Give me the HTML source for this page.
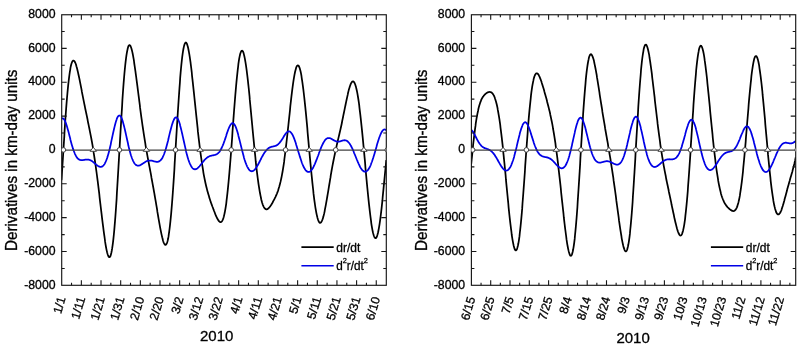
<!DOCTYPE html>
<html><head><meta charset="utf-8"><title>Derivatives 2010</title>
<style>html,body{margin:0;padding:0;background:#fff}svg{display:block}</style></head>
<body><svg width="799" height="347" viewBox="0 0 799 347" font-family='"Liberation Sans", sans-serif' fill="#000" stroke="#000" stroke-width="0.3">
<rect width="799" height="347" fill="#fff" stroke="none"/>
<clipPath id="cp1"><rect x="61.70" y="14.75" width="324.60" height="270.55"/></clipPath>
<g clip-path="url(#cp1)" fill="none" stroke-width="1.55" stroke-linejoin="round">
<path d="M61.5,180.3 L61.9,174.0 L62.3,167.7 L62.7,161.4 L63.1,155.1 L63.5,148.8 L63.9,142.5 L64.3,136.4 L64.6,130.4 L65.0,124.5 L65.4,118.8 L65.8,113.2 L66.2,107.9 L66.6,102.8 L67.0,98.0 L67.4,93.5 L67.8,89.2 L68.2,85.2 L68.6,81.5 L69.0,78.1 L69.4,75.0 L69.8,72.2 L70.2,69.8 L70.5,67.6 L70.9,65.8 L71.3,64.2 L71.7,63.0 L72.1,62.0 L72.5,61.3 L72.9,60.8 L73.3,60.6 L73.7,60.6 L74.1,60.9 L74.5,61.3 L74.9,62.0 L75.3,62.8 L75.7,63.8 L76.1,64.9 L76.4,66.2 L76.8,67.6 L77.2,69.1 L77.6,70.7 L78.0,72.4 L78.4,74.2 L78.8,76.0 L79.2,77.9 L79.6,79.8 L80.0,81.8 L80.4,83.8 L80.8,85.8 L81.2,87.8 L81.6,89.8 L81.9,91.9 L82.3,93.9 L82.7,95.9 L83.1,97.9 L83.5,99.9 L83.9,101.9 L84.3,103.9 L84.7,105.8 L85.1,107.8 L85.5,109.7 L85.9,111.6 L86.3,113.5 L86.7,115.4 L87.1,117.3 L87.5,119.2 L87.8,121.1 L88.2,123.0 L88.6,124.9 L89.0,126.9 L89.4,128.8 L89.8,130.8 L90.2,132.8 L90.6,134.8 L91.0,136.9 L91.4,139.0 L91.8,141.2 L92.2,143.4 L92.6,145.7 L93.0,148.0 L93.4,150.4 L93.7,152.9 L94.1,155.4 L94.5,158.0 L94.9,160.7 L95.3,163.4 L95.7,166.2 L96.1,169.1 L96.5,172.0 L96.9,175.0 L97.3,178.1 L97.7,181.2 L98.1,184.3 L98.5,187.6 L98.9,190.8 L99.3,194.1 L99.6,197.4 L100.0,200.8 L100.4,204.2 L100.8,207.5 L101.2,210.9 L101.6,214.2 L102.0,217.6 L102.4,220.8 L102.8,224.1 L103.2,227.2 L103.6,230.3 L104.0,233.3 L104.4,236.2 L104.8,239.0 L105.1,241.7 L105.5,244.2 L105.9,246.5 L106.3,248.6 L106.7,250.6 L107.1,252.3 L107.5,253.8 L107.9,255.0 L108.3,256.0 L108.7,256.7 L109.1,257.1 L109.5,257.2 L109.9,256.9 L110.3,256.4 L110.7,255.4 L111.0,254.2 L111.4,252.5 L111.8,250.5 L112.2,248.2 L112.6,245.4 L113.0,242.3 L113.4,238.8 L113.8,235.0 L114.2,230.8 L114.6,226.2 L115.0,221.4 L115.4,216.2 L115.8,210.8 L116.2,205.0 L116.6,199.1 L116.9,192.9 L117.3,186.5 L117.7,179.9 L118.1,173.3 L118.5,166.5 L118.9,159.6 L119.3,152.7 L119.7,145.8 L120.1,138.9 L120.5,132.1 L120.9,125.4 L121.3,118.8 L121.7,112.4 L122.1,106.1 L122.4,100.1 L122.8,94.3 L123.2,88.7 L123.6,83.4 L124.0,78.5 L124.4,73.8 L124.8,69.5 L125.2,65.5 L125.6,61.9 L126.0,58.6 L126.4,55.7 L126.8,53.1 L127.2,51.0 L127.6,49.1 L128.0,47.6 L128.3,46.5 L128.7,45.7 L129.1,45.3 L129.5,45.1 L129.9,45.3 L130.3,45.7 L130.7,46.5 L131.1,47.5 L131.5,48.7 L131.9,50.2 L132.3,51.9 L132.7,53.8 L133.1,55.8 L133.5,58.1 L133.9,60.4 L134.2,63.0 L134.6,65.6 L135.0,68.3 L135.4,71.2 L135.8,74.1 L136.2,77.0 L136.6,80.1 L137.0,83.1 L137.4,86.2 L137.8,89.3 L138.2,92.5 L138.6,95.6 L139.0,98.7 L139.4,101.8 L139.8,104.9 L140.1,107.9 L140.5,110.9 L140.9,113.9 L141.3,116.8 L141.7,119.7 L142.1,122.5 L142.5,125.3 L142.9,128.0 L143.3,130.7 L143.7,133.3 L144.1,135.9 L144.5,138.4 L144.9,140.9 L145.3,143.3 L145.6,145.6 L146.0,147.9 L146.4,150.2 L146.8,152.4 L147.2,154.6 L147.6,156.8 L148.0,159.0 L148.4,161.1 L148.8,163.2 L149.2,165.3 L149.6,167.4 L150.0,169.5 L150.4,171.6 L150.8,173.7 L151.2,175.8 L151.5,177.9 L151.9,180.0 L152.3,182.2 L152.7,184.3 L153.1,186.5 L153.5,188.7 L153.9,191.0 L154.3,193.2 L154.7,195.5 L155.1,197.8 L155.5,200.1 L155.9,202.4 L156.3,204.8 L156.7,207.1 L157.1,209.5 L157.4,211.9 L157.8,214.2 L158.2,216.5 L158.6,218.9 L159.0,221.2 L159.4,223.4 L159.8,225.6 L160.2,227.8 L160.6,229.8 L161.0,231.8 L161.4,233.8 L161.8,235.6 L162.2,237.3 L162.6,238.8 L162.9,240.2 L163.3,241.5 L163.7,242.6 L164.1,243.4 L164.5,244.1 L164.9,244.6 L165.3,244.8 L165.7,244.8 L166.1,244.5 L166.5,244.0 L166.9,243.1 L167.3,242.0 L167.7,240.5 L168.1,238.8 L168.5,236.7 L168.8,234.3 L169.2,231.6 L169.6,228.5 L170.0,225.1 L170.4,221.4 L170.8,217.4 L171.2,213.1 L171.6,208.4 L172.0,203.5 L172.4,198.4 L172.8,193.0 L173.2,187.3 L173.6,181.4 L174.0,175.4 L174.4,169.2 L174.7,162.9 L175.1,156.5 L175.5,150.0 L175.9,143.5 L176.3,136.9 L176.7,130.4 L177.1,123.9 L177.5,117.6 L177.9,111.3 L178.3,105.2 L178.7,99.2 L179.1,93.5 L179.5,87.9 L179.9,82.6 L180.2,77.6 L180.6,72.9 L181.0,68.5 L181.4,64.4 L181.8,60.6 L182.2,57.2 L182.6,54.1 L183.0,51.4 L183.4,49.0 L183.8,47.1 L184.2,45.4 L184.6,44.2 L185.0,43.3 L185.4,42.7 L185.8,42.5 L186.1,42.6 L186.5,43.1 L186.9,43.8 L187.3,44.9 L187.7,46.2 L188.1,47.8 L188.5,49.7 L188.9,51.8 L189.3,54.1 L189.7,56.6 L190.1,59.3 L190.5,62.2 L190.9,65.3 L191.3,68.5 L191.7,71.8 L192.0,75.3 L192.4,78.8 L192.8,82.4 L193.2,86.1 L193.6,89.9 L194.0,93.7 L194.4,97.5 L194.8,101.3 L195.2,105.2 L195.6,109.0 L196.0,112.8 L196.4,116.6 L196.8,120.4 L197.2,124.1 L197.6,127.8 L197.9,131.4 L198.3,134.9 L198.7,138.3 L199.1,141.7 L199.5,145.0 L199.9,148.2 L200.3,151.3 L200.7,154.3 L201.1,157.2 L201.5,160.0 L201.9,162.7 L202.3,165.4 L202.7,167.9 L203.1,170.3 L203.4,172.6 L203.8,174.8 L204.2,176.9 L204.6,178.9 L205.0,180.8 L205.4,182.7 L205.8,184.5 L206.2,186.2 L206.6,187.8 L207.0,189.4 L207.4,190.9 L207.8,192.3 L208.2,193.7 L208.6,195.0 L209.0,196.3 L209.3,197.6 L209.7,198.8 L210.1,200.0 L210.5,201.2 L210.9,202.4 L211.3,203.5 L211.7,204.6 L212.1,205.7 L212.5,206.8 L212.9,207.8 L213.3,208.9 L213.7,209.9 L214.1,211.0 L214.5,212.0 L214.9,213.0 L215.2,213.9 L215.6,214.9 L216.0,215.8 L216.4,216.7 L216.8,217.5 L217.2,218.3 L217.6,219.1 L218.0,219.7 L218.4,220.4 L218.8,220.9 L219.2,221.4 L219.6,221.7 L220.0,222.0 L220.4,222.1 L220.7,222.1 L221.1,222.0 L221.5,221.7 L221.9,221.3 L222.3,220.6 L222.7,219.8 L223.1,218.9 L223.5,217.7 L223.9,216.3 L224.3,214.6 L224.7,212.8 L225.1,210.7 L225.5,208.4 L225.9,205.9 L226.3,203.1 L226.6,200.1 L227.0,196.8 L227.4,193.3 L227.8,189.6 L228.2,185.6 L228.6,181.5 L229.0,177.1 L229.4,172.6 L229.8,167.9 L230.2,163.0 L230.6,158.0 L231.0,152.9 L231.4,147.6 L231.8,142.3 L232.2,137.0 L232.5,131.6 L232.9,126.2 L233.3,120.9 L233.7,115.6 L234.1,110.3 L234.5,105.2 L234.9,100.2 L235.3,95.3 L235.7,90.6 L236.1,86.0 L236.5,81.7 L236.9,77.6 L237.3,73.8 L237.7,70.2 L238.1,66.9 L238.4,63.9 L238.8,61.1 L239.2,58.7 L239.6,56.6 L240.0,54.8 L240.4,53.3 L240.8,52.2 L241.2,51.4 L241.6,50.9 L242.0,50.7 L242.4,50.8 L242.8,51.3 L243.2,52.0 L243.6,53.1 L243.9,54.4 L244.3,56.0 L244.7,57.9 L245.1,60.0 L245.5,62.3 L245.9,64.9 L246.3,67.7 L246.7,70.7 L247.1,73.8 L247.5,77.1 L247.9,80.6 L248.3,84.3 L248.7,88.0 L249.1,91.9 L249.5,95.8 L249.8,99.9 L250.2,104.0 L250.6,108.1 L251.0,112.3 L251.4,116.6 L251.8,120.8 L252.2,125.0 L252.6,129.3 L253.0,133.5 L253.4,137.6 L253.8,141.7 L254.2,145.8 L254.6,149.8 L255.0,153.7 L255.4,157.5 L255.7,161.2 L256.1,164.8 L256.5,168.3 L256.9,171.6 L257.3,174.9 L257.7,178.0 L258.1,180.9 L258.5,183.8 L258.9,186.4 L259.3,188.9 L259.7,191.3 L260.1,193.5 L260.5,195.6 L260.9,197.5 L261.2,199.2 L261.6,200.8 L262.0,202.3 L262.4,203.5 L262.8,204.7 L263.2,205.7 L263.6,206.6 L264.0,207.3 L264.4,207.9 L264.8,208.4 L265.2,208.8 L265.6,209.1 L266.0,209.3 L266.4,209.3 L266.8,209.3 L267.1,209.2 L267.5,209.1 L267.9,208.8 L268.3,208.5 L268.7,208.1 L269.1,207.7 L269.5,207.2 L269.9,206.7 L270.3,206.2 L270.7,205.6 L271.1,205.0 L271.5,204.4 L271.9,203.7 L272.3,203.0 L272.7,202.4 L273.0,201.7 L273.4,200.9 L273.8,200.2 L274.2,199.4 L274.6,198.7 L275.0,197.9 L275.4,197.1 L275.8,196.2 L276.2,195.3 L276.6,194.4 L277.0,193.5 L277.4,192.4 L277.8,191.4 L278.2,190.3 L278.5,189.1 L278.9,187.8 L279.3,186.5 L279.7,185.0 L280.1,183.5 L280.5,181.9 L280.9,180.1 L281.3,178.3 L281.7,176.3 L282.1,174.2 L282.5,172.0 L282.9,169.7 L283.3,167.2 L283.7,164.6 L284.1,161.9 L284.4,159.0 L284.8,156.0 L285.2,152.9 L285.6,149.7 L286.0,146.4 L286.4,143.0 L286.8,139.5 L287.2,136.0 L287.6,132.4 L288.0,128.7 L288.4,125.0 L288.8,121.2 L289.2,117.5 L289.6,113.8 L290.0,110.1 L290.3,106.4 L290.7,102.8 L291.1,99.3 L291.5,95.9 L291.9,92.6 L292.3,89.4 L292.7,86.3 L293.1,83.4 L293.5,80.7 L293.9,78.2 L294.3,75.9 L294.7,73.7 L295.1,71.8 L295.5,70.2 L295.9,68.7 L296.2,67.5 L296.6,66.6 L297.0,65.9 L297.4,65.5 L297.8,65.4 L298.2,65.5 L298.6,65.8 L299.0,66.5 L299.4,67.3 L299.8,68.5 L300.2,69.9 L300.6,71.5 L301.0,73.4 L301.4,75.5 L301.7,77.8 L302.1,80.4 L302.5,83.1 L302.9,86.1 L303.3,89.2 L303.7,92.5 L304.1,96.0 L304.5,99.6 L304.9,103.3 L305.3,107.2 L305.7,111.2 L306.1,115.2 L306.5,119.4 L306.9,123.6 L307.3,127.9 L307.6,132.2 L308.0,136.6 L308.4,141.0 L308.8,145.4 L309.2,149.7 L309.6,154.1 L310.0,158.4 L310.4,162.7 L310.8,166.9 L311.2,171.0 L311.6,175.0 L312.0,178.9 L312.4,182.8 L312.8,186.5 L313.2,190.0 L313.5,193.4 L313.9,196.7 L314.3,199.8 L314.7,202.7 L315.1,205.5 L315.5,208.1 L315.9,210.4 L316.3,212.6 L316.7,214.6 L317.1,216.3 L317.5,217.9 L317.9,219.2 L318.3,220.4 L318.7,221.3 L319.0,222.0 L319.4,222.5 L319.8,222.8 L320.2,222.8 L320.6,222.7 L321.0,222.4 L321.4,221.8 L321.8,221.1 L322.2,220.2 L322.6,219.2 L323.0,217.9 L323.4,216.6 L323.8,215.0 L324.2,213.4 L324.6,211.6 L324.9,209.7 L325.3,207.7 L325.7,205.6 L326.1,203.4 L326.5,201.2 L326.9,198.9 L327.3,196.5 L327.7,194.2 L328.1,191.8 L328.5,189.4 L328.9,186.9 L329.3,184.5 L329.7,182.1 L330.1,179.7 L330.5,177.4 L330.8,175.1 L331.2,172.8 L331.6,170.5 L332.0,168.3 L332.4,166.2 L332.8,164.1 L333.2,162.0 L333.6,160.0 L334.0,158.1 L334.4,156.1 L334.8,154.3 L335.2,152.4 L335.6,150.6 L336.0,148.9 L336.4,147.1 L336.7,145.4 L337.1,143.7 L337.5,142.0 L337.9,140.3 L338.3,138.6 L338.7,136.9 L339.1,135.2 L339.5,133.5 L339.9,131.8 L340.3,130.1 L340.7,128.3 L341.1,126.5 L341.5,124.7 L341.9,122.8 L342.2,121.0 L342.6,119.1 L343.0,117.2 L343.4,115.2 L343.8,113.3 L344.2,111.3 L344.6,109.4 L345.0,107.4 L345.4,105.5 L345.8,103.5 L346.2,101.6 L346.6,99.7 L347.0,97.9 L347.4,96.1 L347.8,94.4 L348.1,92.7 L348.5,91.1 L348.9,89.6 L349.3,88.2 L349.7,86.9 L350.1,85.7 L350.5,84.6 L350.9,83.7 L351.3,82.9 L351.7,82.3 L352.1,81.8 L352.5,81.5 L352.9,81.4 L353.3,81.4 L353.7,81.7 L354.0,82.1 L354.4,82.7 L354.8,83.5 L355.2,84.5 L355.6,85.7 L356.0,87.1 L356.4,88.7 L356.8,90.5 L357.2,92.4 L357.6,94.6 L358.0,97.0 L358.4,99.5 L358.8,102.2 L359.2,105.1 L359.5,108.1 L359.9,111.4 L360.3,114.7 L360.7,118.2 L361.1,121.8 L361.5,125.6 L361.9,129.4 L362.3,133.4 L362.7,137.4 L363.1,141.6 L363.5,145.8 L363.9,150.0 L364.3,154.3 L364.7,158.6 L365.1,162.9 L365.4,167.3 L365.8,171.6 L366.2,175.9 L366.6,180.1 L367.0,184.3 L367.4,188.5 L367.8,192.5 L368.2,196.5 L368.6,200.3 L369.0,204.1 L369.4,207.7 L369.8,211.2 L370.2,214.5 L370.6,217.6 L371.0,220.6 L371.3,223.3 L371.7,225.9 L372.1,228.2 L372.5,230.3 L372.9,232.2 L373.3,233.8 L373.7,235.2 L374.1,236.3 L374.5,237.2 L374.9,237.8 L375.3,238.1 L375.7,238.1 L376.1,237.9 L376.5,237.4 L376.8,236.6 L377.2,235.6 L377.6,234.3 L378.0,232.7 L378.4,230.8 L378.8,228.7 L379.2,226.4 L379.6,223.8 L380.0,221.1 L380.4,218.1 L380.8,214.9 L381.2,211.6 L381.6,208.1 L382.0,204.4 L382.4,200.7 L382.7,196.8 L383.1,192.8 L383.5,188.8 L383.9,184.7 L384.3,180.6 L384.7,176.5 L385.1,172.4 L385.5,168.3 L385.9,164.2 L386.3,160.2" stroke="#000" stroke-width="1.75"/>
<path d="M61.5,119.0 L61.9,118.6 L62.3,118.4 L62.7,118.4 L63.1,118.4 L63.5,118.7 L63.9,119.1 L64.3,119.6 L64.6,120.2 L65.0,121.0 L65.4,121.9 L65.8,122.9 L66.2,124.1 L66.6,125.3 L67.0,126.6 L67.4,127.9 L67.8,129.4 L68.2,130.8 L68.6,132.3 L69.0,133.9 L69.4,135.4 L69.8,137.0 L70.2,138.5 L70.5,140.0 L70.9,141.5 L71.3,143.0 L71.7,144.4 L72.1,145.8 L72.5,147.1 L72.9,148.4 L73.3,149.6 L73.7,150.8 L74.1,151.8 L74.5,152.8 L74.9,153.8 L75.3,154.6 L75.7,155.4 L76.1,156.1 L76.4,156.8 L76.8,157.3 L77.2,157.9 L77.6,158.3 L78.0,158.7 L78.4,159.1 L78.8,159.3 L79.2,159.6 L79.6,159.8 L80.0,159.9 L80.4,160.0 L80.8,160.1 L81.2,160.2 L81.6,160.2 L81.9,160.2 L82.3,160.2 L82.7,160.1 L83.1,160.1 L83.5,160.0 L83.9,159.9 L84.3,159.9 L84.7,159.8 L85.1,159.7 L85.5,159.7 L85.9,159.6 L86.3,159.6 L86.7,159.5 L87.1,159.5 L87.5,159.5 L87.8,159.6 L88.2,159.6 L88.6,159.7 L89.0,159.7 L89.4,159.9 L89.8,160.0 L90.2,160.2 L90.6,160.3 L91.0,160.5 L91.4,160.8 L91.8,161.0 L92.2,161.3 L92.6,161.6 L93.0,161.9 L93.4,162.2 L93.7,162.5 L94.1,162.9 L94.5,163.2 L94.9,163.5 L95.3,163.9 L95.7,164.2 L96.1,164.6 L96.5,164.9 L96.9,165.2 L97.3,165.5 L97.7,165.8 L98.1,166.0 L98.5,166.2 L98.9,166.4 L99.3,166.6 L99.6,166.7 L100.0,166.8 L100.4,166.9 L100.8,166.9 L101.2,166.8 L101.6,166.7 L102.0,166.6 L102.4,166.4 L102.8,166.1 L103.2,165.7 L103.6,165.3 L104.0,164.8 L104.4,164.3 L104.8,163.6 L105.1,162.9 L105.5,162.1 L105.9,161.2 L106.3,160.3 L106.7,159.2 L107.1,158.1 L107.5,156.9 L107.9,155.6 L108.3,154.2 L108.7,152.8 L109.1,151.3 L109.5,149.7 L109.9,148.0 L110.3,146.3 L110.7,144.6 L111.0,142.8 L111.4,140.9 L111.8,139.1 L112.2,137.2 L112.6,135.4 L113.0,133.5 L113.4,131.7 L113.8,130.0 L114.2,128.2 L114.6,126.6 L115.0,125.0 L115.4,123.5 L115.8,122.1 L116.2,120.8 L116.6,119.6 L116.9,118.6 L117.3,117.7 L117.7,116.9 L118.1,116.3 L118.5,115.9 L118.9,115.6 L119.3,115.5 L119.7,115.6 L120.1,115.8 L120.5,116.2 L120.9,116.7 L121.3,117.4 L121.7,118.3 L122.1,119.3 L122.4,120.4 L122.8,121.6 L123.2,123.0 L123.6,124.4 L124.0,126.0 L124.4,127.6 L124.8,129.3 L125.2,131.0 L125.6,132.8 L126.0,134.6 L126.4,136.4 L126.8,138.2 L127.2,140.0 L127.6,141.8 L128.0,143.5 L128.3,145.3 L128.7,146.9 L129.1,148.6 L129.5,150.1 L129.9,151.6 L130.3,153.0 L130.7,154.4 L131.1,155.7 L131.5,156.8 L131.9,158.0 L132.3,159.0 L132.7,159.9 L133.1,160.8 L133.5,161.6 L133.9,162.3 L134.2,162.9 L134.6,163.5 L135.0,164.0 L135.4,164.4 L135.8,164.8 L136.2,165.1 L136.6,165.3 L137.0,165.5 L137.4,165.6 L137.8,165.6 L138.2,165.7 L138.6,165.6 L139.0,165.6 L139.4,165.5 L139.8,165.4 L140.1,165.2 L140.5,165.0 L140.9,164.8 L141.3,164.6 L141.7,164.3 L142.1,164.1 L142.5,163.8 L142.9,163.5 L143.3,163.3 L143.7,163.0 L144.1,162.7 L144.5,162.5 L144.9,162.2 L145.3,162.0 L145.6,161.7 L146.0,161.5 L146.4,161.3 L146.8,161.1 L147.2,161.0 L147.6,160.8 L148.0,160.7 L148.4,160.6 L148.8,160.6 L149.2,160.5 L149.6,160.5 L150.0,160.5 L150.4,160.5 L150.8,160.5 L151.2,160.6 L151.5,160.7 L151.9,160.7 L152.3,160.8 L152.7,160.9 L153.1,161.0 L153.5,161.2 L153.9,161.3 L154.3,161.4 L154.7,161.5 L155.1,161.6 L155.5,161.7 L155.9,161.7 L156.3,161.8 L156.7,161.8 L157.1,161.8 L157.4,161.8 L157.8,161.8 L158.2,161.7 L158.6,161.6 L159.0,161.4 L159.4,161.2 L159.8,160.9 L160.2,160.6 L160.6,160.3 L161.0,159.8 L161.4,159.4 L161.8,158.8 L162.2,158.2 L162.6,157.5 L162.9,156.7 L163.3,155.9 L163.7,155.0 L164.1,154.0 L164.5,152.9 L164.9,151.8 L165.3,150.6 L165.7,149.3 L166.1,148.0 L166.5,146.6 L166.9,145.1 L167.3,143.6 L167.7,142.0 L168.1,140.5 L168.5,138.8 L168.8,137.2 L169.2,135.6 L169.6,133.9 L170.0,132.3 L170.4,130.7 L170.8,129.2 L171.2,127.7 L171.6,126.2 L172.0,124.8 L172.4,123.6 L172.8,122.4 L173.2,121.3 L173.6,120.3 L174.0,119.5 L174.4,118.8 L174.7,118.2 L175.1,117.8 L175.5,117.5 L175.9,117.4 L176.3,117.4 L176.7,117.6 L177.1,117.9 L177.5,118.4 L177.9,119.0 L178.3,119.8 L178.7,120.8 L179.1,121.8 L179.5,123.0 L179.9,124.3 L180.2,125.7 L180.6,127.2 L181.0,128.7 L181.4,130.4 L181.8,132.1 L182.2,133.8 L182.6,135.6 L183.0,137.4 L183.4,139.2 L183.8,141.0 L184.2,142.8 L184.6,144.6 L185.0,146.4 L185.4,148.1 L185.8,149.8 L186.1,151.5 L186.5,153.1 L186.9,154.6 L187.3,156.0 L187.7,157.4 L188.1,158.7 L188.5,160.0 L188.9,161.1 L189.3,162.2 L189.7,163.2 L190.1,164.1 L190.5,164.9 L190.9,165.7 L191.3,166.4 L191.7,167.0 L192.0,167.5 L192.4,168.0 L192.8,168.4 L193.2,168.7 L193.6,168.9 L194.0,169.1 L194.4,169.2 L194.8,169.3 L195.2,169.3 L195.6,169.2 L196.0,169.1 L196.4,168.9 L196.8,168.7 L197.2,168.5 L197.6,168.2 L197.9,167.9 L198.3,167.5 L198.7,167.1 L199.1,166.7 L199.5,166.3 L199.9,165.8 L200.3,165.3 L200.7,164.8 L201.1,164.3 L201.5,163.8 L201.9,163.3 L202.3,162.8 L202.7,162.3 L203.1,161.8 L203.4,161.3 L203.8,160.9 L204.2,160.4 L204.6,159.9 L205.0,159.5 L205.4,159.1 L205.8,158.7 L206.2,158.4 L206.6,158.0 L207.0,157.7 L207.4,157.4 L207.8,157.1 L208.2,156.9 L208.6,156.7 L209.0,156.5 L209.3,156.3 L209.7,156.1 L210.1,156.0 L210.5,155.9 L210.9,155.8 L211.3,155.7 L211.7,155.6 L212.1,155.5 L212.5,155.4 L212.9,155.4 L213.3,155.3 L213.7,155.2 L214.1,155.1 L214.5,155.0 L214.9,154.9 L215.2,154.8 L215.6,154.7 L216.0,154.5 L216.4,154.4 L216.8,154.2 L217.2,153.9 L217.6,153.6 L218.0,153.3 L218.4,152.9 L218.8,152.5 L219.2,152.1 L219.6,151.6 L220.0,151.0 L220.4,150.4 L220.7,149.7 L221.1,149.0 L221.5,148.3 L221.9,147.4 L222.3,146.5 L222.7,145.6 L223.1,144.6 L223.5,143.6 L223.9,142.5 L224.3,141.4 L224.7,140.3 L225.1,139.1 L225.5,137.9 L225.9,136.7 L226.3,135.5 L226.6,134.3 L227.0,133.1 L227.4,132.0 L227.8,130.9 L228.2,129.8 L228.6,128.8 L229.0,127.8 L229.4,126.9 L229.8,126.1 L230.2,125.3 L230.6,124.7 L231.0,124.2 L231.4,123.7 L231.8,123.4 L232.2,123.2 L232.5,123.1 L232.9,123.2 L233.3,123.4 L233.7,123.7 L234.1,124.1 L234.5,124.6 L234.9,125.3 L235.3,126.0 L235.7,126.9 L236.1,127.9 L236.5,129.0 L236.9,130.2 L237.3,131.4 L237.7,132.8 L238.1,134.2 L238.4,135.7 L238.8,137.2 L239.2,138.7 L239.6,140.3 L240.0,141.9 L240.4,143.5 L240.8,145.1 L241.2,146.8 L241.6,148.4 L242.0,150.0 L242.4,151.5 L242.8,153.0 L243.2,154.5 L243.6,156.0 L243.9,157.4 L244.3,158.7 L244.7,160.0 L245.1,161.2 L245.5,162.4 L245.9,163.4 L246.3,164.5 L246.7,165.4 L247.1,166.3 L247.5,167.1 L247.9,167.8 L248.3,168.5 L248.7,169.1 L249.1,169.6 L249.5,170.1 L249.8,170.4 L250.2,170.7 L250.6,171.0 L251.0,171.1 L251.4,171.2 L251.8,171.3 L252.2,171.2 L252.6,171.1 L253.0,171.0 L253.4,170.7 L253.8,170.5 L254.2,170.1 L254.6,169.8 L255.0,169.3 L255.4,168.9 L255.7,168.3 L256.1,167.8 L256.5,167.2 L256.9,166.6 L257.3,165.9 L257.7,165.2 L258.1,164.5 L258.5,163.8 L258.9,163.0 L259.3,162.3 L259.7,161.5 L260.1,160.7 L260.5,159.9 L260.9,159.2 L261.2,158.4 L261.6,157.6 L262.0,156.9 L262.4,156.2 L262.8,155.5 L263.2,154.8 L263.6,154.1 L264.0,153.4 L264.4,152.8 L264.8,152.2 L265.2,151.7 L265.6,151.2 L266.0,150.7 L266.4,150.2 L266.8,149.8 L267.1,149.4 L267.5,149.0 L267.9,148.7 L268.3,148.3 L268.7,148.1 L269.1,147.8 L269.5,147.6 L269.9,147.4 L270.3,147.2 L270.7,147.1 L271.1,147.0 L271.5,146.8 L271.9,146.7 L272.3,146.7 L272.7,146.6 L273.0,146.5 L273.4,146.4 L273.8,146.3 L274.2,146.2 L274.6,146.1 L275.0,146.0 L275.4,145.9 L275.8,145.7 L276.2,145.6 L276.6,145.4 L277.0,145.1 L277.4,144.9 L277.8,144.6 L278.2,144.3 L278.5,143.9 L278.9,143.5 L279.3,143.1 L279.7,142.6 L280.1,142.2 L280.5,141.6 L280.9,141.1 L281.3,140.5 L281.7,139.9 L282.1,139.3 L282.5,138.7 L282.9,138.0 L283.3,137.4 L283.7,136.7 L284.1,136.1 L284.4,135.5 L284.8,134.9 L285.2,134.3 L285.6,133.8 L286.0,133.3 L286.4,132.8 L286.8,132.4 L287.2,132.1 L287.6,131.8 L288.0,131.6 L288.4,131.4 L288.8,131.4 L289.2,131.4 L289.6,131.5 L290.0,131.6 L290.3,131.9 L290.7,132.2 L291.1,132.7 L291.5,133.2 L291.9,133.8 L292.3,134.4 L292.7,135.2 L293.1,136.0 L293.5,136.9 L293.9,137.9 L294.3,138.9 L294.7,140.0 L295.1,141.1 L295.5,142.3 L295.9,143.5 L296.2,144.7 L296.6,146.0 L297.0,147.3 L297.4,148.6 L297.8,149.9 L298.2,151.2 L298.6,152.5 L299.0,153.8 L299.4,155.1 L299.8,156.4 L300.2,157.6 L300.6,158.8 L301.0,160.0 L301.4,161.2 L301.7,162.2 L302.1,163.3 L302.5,164.3 L302.9,165.2 L303.3,166.1 L303.7,167.0 L304.1,167.7 L304.5,168.4 L304.9,169.1 L305.3,169.7 L305.7,170.2 L306.1,170.7 L306.5,171.0 L306.9,171.4 L307.3,171.6 L307.6,171.8 L308.0,171.9 L308.4,172.0 L308.8,171.9 L309.2,171.9 L309.6,171.7 L310.0,171.5 L310.4,171.2 L310.8,170.8 L311.2,170.4 L311.6,170.0 L312.0,169.4 L312.4,168.8 L312.8,168.2 L313.2,167.5 L313.5,166.8 L313.9,166.0 L314.3,165.1 L314.7,164.3 L315.1,163.4 L315.5,162.4 L315.9,161.4 L316.3,160.4 L316.7,159.4 L317.1,158.4 L317.5,157.3 L317.9,156.2 L318.3,155.2 L318.7,154.1 L319.0,153.0 L319.4,152.0 L319.8,150.9 L320.2,149.9 L320.6,148.9 L321.0,147.9 L321.4,146.9 L321.8,146.0 L322.2,145.1 L322.6,144.3 L323.0,143.5 L323.4,142.8 L323.8,142.1 L324.2,141.4 L324.6,140.8 L324.9,140.3 L325.3,139.8 L325.7,139.4 L326.1,139.0 L326.5,138.7 L326.9,138.5 L327.3,138.3 L327.7,138.1 L328.1,138.0 L328.5,138.0 L328.9,138.0 L329.3,138.0 L329.7,138.1 L330.1,138.2 L330.5,138.4 L330.8,138.5 L331.2,138.7 L331.6,138.9 L332.0,139.2 L332.4,139.4 L332.8,139.7 L333.2,139.9 L333.6,140.1 L334.0,140.4 L334.4,140.6 L334.8,140.8 L335.2,141.0 L335.6,141.1 L336.0,141.3 L336.4,141.4 L336.7,141.5 L337.1,141.6 L337.5,141.6 L337.9,141.6 L338.3,141.6 L338.7,141.6 L339.1,141.5 L339.5,141.5 L339.9,141.4 L340.3,141.3 L340.7,141.2 L341.1,141.0 L341.5,140.9 L341.9,140.8 L342.2,140.7 L342.6,140.5 L343.0,140.4 L343.4,140.4 L343.8,140.3 L344.2,140.3 L344.6,140.2 L345.0,140.3 L345.4,140.3 L345.8,140.4 L346.2,140.5 L346.6,140.7 L347.0,140.9 L347.4,141.2 L347.8,141.5 L348.1,141.9 L348.5,142.3 L348.9,142.8 L349.3,143.3 L349.7,143.8 L350.1,144.4 L350.5,145.1 L350.9,145.8 L351.3,146.5 L351.7,147.3 L352.1,148.1 L352.5,148.9 L352.9,149.8 L353.3,150.7 L353.7,151.7 L354.0,152.6 L354.4,153.6 L354.8,154.5 L355.2,155.5 L355.6,156.5 L356.0,157.5 L356.4,158.5 L356.8,159.5 L357.2,160.4 L357.6,161.4 L358.0,162.3 L358.4,163.2 L358.8,164.1 L359.2,164.9 L359.5,165.7 L359.9,166.5 L360.3,167.2 L360.7,167.9 L361.1,168.5 L361.5,169.1 L361.9,169.6 L362.3,170.1 L362.7,170.5 L363.1,170.9 L363.5,171.1 L363.9,171.4 L364.3,171.6 L364.7,171.7 L365.1,171.7 L365.4,171.7 L365.8,171.6 L366.2,171.4 L366.6,171.2 L367.0,170.9 L367.4,170.5 L367.8,170.1 L368.2,169.6 L368.6,169.1 L369.0,168.4 L369.4,167.7 L369.8,167.0 L370.2,166.2 L370.6,165.3 L371.0,164.3 L371.3,163.3 L371.7,162.3 L372.1,161.2 L372.5,160.0 L372.9,158.8 L373.3,157.6 L373.7,156.3 L374.1,155.0 L374.5,153.7 L374.9,152.3 L375.3,151.0 L375.7,149.6 L376.1,148.2 L376.5,146.8 L376.8,145.5 L377.2,144.1 L377.6,142.8 L378.0,141.5 L378.4,140.2 L378.8,139.0 L379.2,137.8 L379.6,136.7 L380.0,135.7 L380.4,134.7 L380.8,133.8 L381.2,132.9 L381.6,132.2 L382.0,131.5 L382.4,130.9 L382.7,130.5 L383.1,130.1 L383.5,129.8 L383.9,129.6 L384.3,129.5 L384.7,129.4 L385.1,129.5 L385.5,129.7 L385.9,129.9 L386.3,130.2" stroke="#0000e6" stroke-width="1.75"/>
</g>
<rect x="61.70" y="14.75" width="324.60" height="270.55" fill="none" stroke="#161616" stroke-width="1.15"/>
<path d="M71.53,285.30 v-2.5 M71.53,14.75 v2.5 M81.36,285.30 v-5.0 M81.36,14.75 v5.0 M91.19,285.30 v-2.5 M91.19,14.75 v2.5 M101.02,285.30 v-5.0 M101.02,14.75 v5.0 M110.85,285.30 v-2.5 M110.85,14.75 v2.5 M120.68,285.30 v-5.0 M120.68,14.75 v5.0 M130.51,285.30 v-2.5 M130.51,14.75 v2.5 M140.34,285.30 v-5.0 M140.34,14.75 v5.0 M150.17,285.30 v-2.5 M150.17,14.75 v2.5 M160.00,285.30 v-5.0 M160.00,14.75 v5.0 M169.83,285.30 v-2.5 M169.83,14.75 v2.5 M179.66,285.30 v-5.0 M179.66,14.75 v5.0 M189.49,285.30 v-2.5 M189.49,14.75 v2.5 M199.32,285.30 v-5.0 M199.32,14.75 v5.0 M209.15,285.30 v-2.5 M209.15,14.75 v2.5 M218.98,285.30 v-5.0 M218.98,14.75 v5.0 M228.81,285.30 v-2.5 M228.81,14.75 v2.5 M238.64,285.30 v-5.0 M238.64,14.75 v5.0 M248.47,285.30 v-2.5 M248.47,14.75 v2.5 M258.30,285.30 v-5.0 M258.30,14.75 v5.0 M268.13,285.30 v-2.5 M268.13,14.75 v2.5 M277.96,285.30 v-5.0 M277.96,14.75 v5.0 M287.79,285.30 v-2.5 M287.79,14.75 v2.5 M297.62,285.30 v-5.0 M297.62,14.75 v5.0 M307.45,285.30 v-2.5 M307.45,14.75 v2.5 M317.28,285.30 v-5.0 M317.28,14.75 v5.0 M327.11,285.30 v-2.5 M327.11,14.75 v2.5 M336.94,285.30 v-5.0 M336.94,14.75 v5.0 M346.77,285.30 v-2.5 M346.77,14.75 v2.5 M356.60,285.30 v-5.0 M356.60,14.75 v5.0 M366.43,285.30 v-2.5 M366.43,14.75 v2.5 M376.26,285.30 v-5.0 M376.26,14.75 v5.0 M61.70,31.44 h3.0 M386.30,31.44 h-3.0 M61.70,48.37 h5.0 M386.30,48.37 h-5.0 M61.70,65.30 h3.0 M386.30,65.30 h-3.0 M61.70,82.23 h5.0 M386.30,82.23 h-5.0 M61.70,99.16 h3.0 M386.30,99.16 h-3.0 M61.70,116.09 h5.0 M386.30,116.09 h-5.0 M61.70,133.02 h3.0 M386.30,133.02 h-3.0 M61.70,166.88 h3.0 M386.30,166.88 h-3.0 M61.70,183.81 h5.0 M386.30,183.81 h-5.0 M61.70,200.74 h3.0 M386.30,200.74 h-3.0 M61.70,217.67 h5.0 M386.30,217.67 h-5.0 M61.70,234.60 h3.0 M386.30,234.60 h-3.0 M61.70,251.53 h5.0 M386.30,251.53 h-5.0 M61.70,268.46 h3.0 M386.30,268.46 h-3.0" stroke="#161616" stroke-width="1.1" fill="none"/>
<line x1="61.70" y1="150.10" x2="386.30" y2="150.10" stroke="#404040" stroke-width="1.3"/>
<g fill="#fff" stroke="#3a3a3a" stroke-width="0.95" clip-path="url(#cp1)">
<circle cx="63.39" cy="149.90" r="2.3"/>
<path d="M93.29,147.20 l3.2,4.1 h-6.4 z"/>
<circle cx="119.46" cy="149.90" r="2.3"/>
<path d="M146.41,147.20 l3.2,4.1 h-6.4 z"/>
<circle cx="175.53" cy="149.90" r="2.3"/>
<path d="M200.15,147.20 l3.2,4.1 h-6.4 z"/>
<circle cx="231.19" cy="149.90" r="2.3"/>
<path d="M254.58,147.20 l3.2,4.1 h-6.4 z"/>
<circle cx="285.59" cy="149.90" r="2.3"/>
<path d="M309.24,147.20 l3.2,4.1 h-6.4 z"/>
<circle cx="335.70" cy="149.90" r="2.3"/>
<path d="M363.87,147.20 l3.2,4.1 h-6.4 z"/>
<circle cx="387.33" cy="149.90" r="2.3"/>
</g>
<g font-size="11.9" text-anchor="end">
<text transform="translate(55.50,17.76) scale(1.03,1)">8000</text>
<text transform="translate(55.50,51.62) scale(1.03,1)">6000</text>
<text transform="translate(55.50,85.48) scale(1.03,1)">4000</text>
<text transform="translate(55.50,119.34) scale(1.03,1)">2000</text>
<text transform="translate(55.50,153.20) scale(1.03,1)">0</text>
<text transform="translate(55.50,187.06) scale(1.03,1)">-2000</text>
<text transform="translate(55.50,220.92) scale(1.03,1)">-4000</text>
<text transform="translate(55.50,254.78) scale(1.03,1)">-6000</text>
<text transform="translate(55.50,288.64) scale(1.03,1)">-8000</text>
</g>
<g font-size="12.2" text-anchor="end">
<text transform="translate(61.70,297.00) rotate(-73.5)" y="4.2">1/1</text>
<text transform="translate(81.36,297.00) rotate(-73.5)" y="4.2">1/11</text>
<text transform="translate(101.02,297.00) rotate(-73.5)" y="4.2">1/21</text>
<text transform="translate(120.68,297.00) rotate(-73.5)" y="4.2">1/31</text>
<text transform="translate(140.34,297.00) rotate(-73.5)" y="4.2">2/10</text>
<text transform="translate(160.00,297.00) rotate(-73.5)" y="4.2">2/20</text>
<text transform="translate(179.66,297.00) rotate(-73.5)" y="4.2">3/2</text>
<text transform="translate(199.32,297.00) rotate(-73.5)" y="4.2">3/12</text>
<text transform="translate(218.98,297.00) rotate(-73.5)" y="4.2">3/22</text>
<text transform="translate(238.64,297.00) rotate(-73.5)" y="4.2">4/1</text>
<text transform="translate(258.30,297.00) rotate(-73.5)" y="4.2">4/11</text>
<text transform="translate(277.96,297.00) rotate(-73.5)" y="4.2">4/21</text>
<text transform="translate(297.62,297.00) rotate(-73.5)" y="4.2">5/1</text>
<text transform="translate(317.28,297.00) rotate(-73.5)" y="4.2">5/11</text>
<text transform="translate(336.94,297.00) rotate(-73.5)" y="4.2">5/21</text>
<text transform="translate(356.60,297.00) rotate(-73.5)" y="4.2">5/31</text>
<text transform="translate(376.26,297.00) rotate(-73.5)" y="4.2">6/10</text>
</g>
<text font-size="15.2" text-anchor="middle" transform="translate(16.70,160.30) rotate(-90) scale(1,1.09)">Derivatives in km-day units</text>
<text font-size="15" text-anchor="middle" x="216.70" y="340.90">2010</text>
<line x1="301.40" y1="247.1" x2="333.70" y2="247.1" stroke="#000" stroke-width="1.8"/>
<line x1="301.40" y1="265.7" x2="333.70" y2="265.7" stroke="#0000e6" stroke-width="1.6"/>
<text font-size="13" transform="translate(336.20,251.6) scale(0.925,1)">dr/dt</text>
<text font-size="12.7" transform="translate(336.20,269.7) scale(0.925,1)">d<tspan font-size="8" dy="-6.6">2</tspan><tspan dy="6.6">r/dt</tspan><tspan font-size="8" dy="-6.6">2</tspan></text>
<clipPath id="cp2"><rect x="471.40" y="14.75" width="324.30" height="270.55"/></clipPath>
<g clip-path="url(#cp2)" fill="none" stroke-width="1.55" stroke-linejoin="round">
<path d="M471.2,164.2 L471.6,160.2 L472.0,156.3 L472.4,152.4 L472.8,148.7 L473.1,145.0 L473.5,141.5 L473.9,138.1 L474.3,134.8 L474.7,131.7 L475.1,128.7 L475.5,125.9 L475.8,123.2 L476.2,120.6 L476.6,118.2 L477.0,116.0 L477.4,113.9 L477.8,112.0 L478.2,110.2 L478.5,108.5 L478.9,106.9 L479.3,105.5 L479.7,104.2 L480.1,103.0 L480.5,101.9 L480.9,100.9 L481.2,100.0 L481.6,99.2 L482.0,98.4 L482.4,97.7 L482.8,97.1 L483.2,96.5 L483.6,96.0 L483.9,95.5 L484.3,95.1 L484.7,94.6 L485.1,94.3 L485.5,93.9 L485.9,93.6 L486.3,93.3 L486.6,93.0 L487.0,92.8 L487.4,92.6 L487.8,92.4 L488.2,92.2 L488.6,92.1 L489.0,92.0 L489.3,92.0 L489.7,91.9 L490.1,92.0 L490.5,92.0 L490.9,92.2 L491.3,92.4 L491.7,92.6 L492.1,93.0 L492.4,93.4 L492.8,93.8 L493.2,94.4 L493.6,95.1 L494.0,95.8 L494.4,96.7 L494.8,97.7 L495.1,98.8 L495.5,100.0 L495.9,101.3 L496.3,102.7 L496.7,104.3 L497.1,106.0 L497.5,107.9 L497.8,109.9 L498.2,112.0 L498.6,114.3 L499.0,116.7 L499.4,119.2 L499.8,121.9 L500.2,124.7 L500.5,127.6 L500.9,130.7 L501.3,133.9 L501.7,137.2 L502.1,140.6 L502.5,144.1 L502.9,147.7 L503.2,151.5 L503.6,155.2 L504.0,159.1 L504.4,163.0 L504.8,167.0 L505.2,171.1 L505.6,175.1 L505.9,179.2 L506.3,183.3 L506.7,187.4 L507.1,191.5 L507.5,195.5 L507.9,199.6 L508.3,203.5 L508.6,207.4 L509.0,211.2 L509.4,215.0 L509.8,218.6 L510.2,222.1 L510.6,225.4 L511.0,228.6 L511.4,231.7 L511.7,234.5 L512.1,237.2 L512.5,239.7 L512.9,241.9 L513.3,243.9 L513.7,245.7 L514.1,247.2 L514.4,248.4 L514.8,249.3 L515.2,250.0 L515.6,250.3 L516.0,250.4 L516.4,250.1 L516.8,249.5 L517.1,248.6 L517.5,247.3 L517.9,245.7 L518.3,243.8 L518.7,241.6 L519.1,239.0 L519.5,236.2 L519.8,233.0 L520.2,229.6 L520.6,225.8 L521.0,221.8 L521.4,217.6 L521.8,213.1 L522.2,208.4 L522.5,203.5 L522.9,198.5 L523.3,193.3 L523.7,187.9 L524.1,182.5 L524.5,177.0 L524.9,171.5 L525.2,165.9 L525.6,160.4 L526.0,154.8 L526.4,149.4 L526.8,144.0 L527.2,138.7 L527.6,133.5 L527.9,128.5 L528.3,123.6 L528.7,118.9 L529.1,114.4 L529.5,110.2 L529.9,106.1 L530.3,102.3 L530.7,98.7 L531.0,95.3 L531.4,92.2 L531.8,89.3 L532.2,86.7 L532.6,84.4 L533.0,82.3 L533.4,80.4 L533.7,78.8 L534.1,77.4 L534.5,76.2 L534.9,75.2 L535.3,74.5 L535.7,73.9 L536.1,73.5 L536.4,73.3 L536.8,73.3 L537.2,73.4 L537.6,73.7 L538.0,74.0 L538.4,74.6 L538.8,75.2 L539.1,75.9 L539.5,76.7 L539.9,77.6 L540.3,78.6 L540.7,79.6 L541.1,80.7 L541.5,81.8 L541.8,83.0 L542.2,84.2 L542.6,85.4 L543.0,86.7 L543.4,88.0 L543.8,89.3 L544.2,90.7 L544.5,92.0 L544.9,93.4 L545.3,94.8 L545.7,96.2 L546.1,97.6 L546.5,99.1 L546.9,100.5 L547.2,102.0 L547.6,103.5 L548.0,105.0 L548.4,106.5 L548.8,108.1 L549.2,109.7 L549.6,111.3 L550.0,113.0 L550.3,114.7 L550.7,116.5 L551.1,118.4 L551.5,120.2 L551.9,122.2 L552.3,124.2 L552.7,126.3 L553.0,128.5 L553.4,130.7 L553.8,133.0 L554.2,135.4 L554.6,137.9 L555.0,140.5 L555.4,143.1 L555.7,145.8 L556.1,148.7 L556.5,151.6 L556.9,154.6 L557.3,157.7 L557.7,160.8 L558.1,164.0 L558.4,167.3 L558.8,170.7 L559.2,174.1 L559.6,177.6 L560.0,181.2 L560.4,184.7 L560.8,188.3 L561.1,192.0 L561.5,195.6 L561.9,199.3 L562.3,202.9 L562.7,206.5 L563.1,210.1 L563.5,213.7 L563.8,217.2 L564.2,220.6 L564.6,224.0 L565.0,227.3 L565.4,230.5 L565.8,233.5 L566.2,236.5 L566.5,239.2 L566.9,241.9 L567.3,244.3 L567.7,246.5 L568.1,248.6 L568.5,250.4 L568.9,252.0 L569.3,253.3 L569.6,254.3 L570.0,255.1 L570.4,255.6 L570.8,255.8 L571.2,255.6 L571.6,255.1 L572.0,254.3 L572.3,253.2 L572.7,251.7 L573.1,249.8 L573.5,247.6 L573.9,245.0 L574.3,242.1 L574.7,238.9 L575.0,235.3 L575.4,231.3 L575.8,227.1 L576.2,222.5 L576.6,217.7 L577.0,212.5 L577.4,207.2 L577.7,201.6 L578.1,195.8 L578.5,189.8 L578.9,183.6 L579.3,177.4 L579.7,171.0 L580.1,164.6 L580.4,158.1 L580.8,151.6 L581.2,145.2 L581.6,138.8 L582.0,132.5 L582.4,126.3 L582.8,120.2 L583.1,114.3 L583.5,108.6 L583.9,103.1 L584.3,97.9 L584.7,92.9 L585.1,88.1 L585.5,83.7 L585.8,79.6 L586.2,75.7 L586.6,72.2 L587.0,69.0 L587.4,66.1 L587.8,63.5 L588.2,61.3 L588.6,59.4 L588.9,57.8 L589.3,56.5 L589.7,55.5 L590.1,54.8 L590.5,54.4 L590.9,54.2 L591.3,54.3 L591.6,54.7 L592.0,55.3 L592.4,56.1 L592.8,57.1 L593.2,58.2 L593.6,59.6 L594.0,61.1 L594.3,62.8 L594.7,64.6 L595.1,66.5 L595.5,68.5 L595.9,70.6 L596.3,72.8 L596.7,75.0 L597.0,77.4 L597.4,79.7 L597.8,82.1 L598.2,84.6 L598.6,87.1 L599.0,89.6 L599.4,92.1 L599.7,94.6 L600.1,97.1 L600.5,99.6 L600.9,102.1 L601.3,104.5 L601.7,107.0 L602.1,109.4 L602.4,111.9 L602.8,114.3 L603.2,116.6 L603.6,119.0 L604.0,121.3 L604.4,123.7 L604.8,126.0 L605.1,128.2 L605.5,130.5 L605.9,132.7 L606.3,135.0 L606.7,137.2 L607.1,139.5 L607.5,141.7 L607.9,143.9 L608.2,146.2 L608.6,148.4 L609.0,150.7 L609.4,153.0 L609.8,155.3 L610.2,157.7 L610.6,160.0 L610.9,162.5 L611.3,164.9 L611.7,167.4 L612.1,169.9 L612.5,172.5 L612.9,175.1 L613.3,177.7 L613.6,180.4 L614.0,183.1 L614.4,185.9 L614.8,188.7 L615.2,191.5 L615.6,194.4 L616.0,197.3 L616.3,200.2 L616.7,203.1 L617.1,206.0 L617.5,208.9 L617.9,211.8 L618.3,214.7 L618.7,217.6 L619.0,220.4 L619.4,223.2 L619.8,225.9 L620.2,228.6 L620.6,231.2 L621.0,233.6 L621.4,236.0 L621.7,238.3 L622.1,240.4 L622.5,242.4 L622.9,244.2 L623.3,245.9 L623.7,247.4 L624.1,248.6 L624.4,249.6 L624.8,250.4 L625.2,251.0 L625.6,251.3 L626.0,251.3 L626.4,251.0 L626.8,250.4 L627.2,249.5 L627.5,248.3 L627.9,246.7 L628.3,244.8 L628.7,242.6 L629.1,240.0 L629.5,237.1 L629.9,233.9 L630.2,230.3 L630.6,226.4 L631.0,222.1 L631.4,217.6 L631.8,212.7 L632.2,207.6 L632.6,202.2 L632.9,196.5 L633.3,190.7 L633.7,184.6 L634.1,178.3 L634.5,172.0 L634.9,165.5 L635.3,158.9 L635.6,152.2 L636.0,145.6 L636.4,138.9 L636.8,132.3 L637.2,125.7 L637.6,119.3 L638.0,112.9 L638.3,106.8 L638.7,100.8 L639.1,95.0 L639.5,89.5 L639.9,84.2 L640.3,79.2 L640.7,74.6 L641.0,70.2 L641.4,66.1 L641.8,62.4 L642.2,59.0 L642.6,56.0 L643.0,53.4 L643.4,51.1 L643.7,49.1 L644.1,47.6 L644.5,46.3 L644.9,45.4 L645.3,44.9 L645.7,44.7 L646.1,44.7 L646.5,45.1 L646.8,45.8 L647.2,46.8 L647.6,48.0 L648.0,49.5 L648.4,51.2 L648.8,53.1 L649.2,55.2 L649.5,57.5 L649.9,59.9 L650.3,62.5 L650.7,65.3 L651.1,68.1 L651.5,71.1 L651.9,74.2 L652.2,77.3 L652.6,80.5 L653.0,83.8 L653.4,87.1 L653.8,90.5 L654.2,93.8 L654.6,97.2 L654.9,100.6 L655.3,104.0 L655.7,107.3 L656.1,110.7 L656.5,114.0 L656.9,117.3 L657.3,120.5 L657.6,123.7 L658.0,126.8 L658.4,129.9 L658.8,132.9 L659.2,135.9 L659.6,138.7 L660.0,141.6 L660.3,144.3 L660.7,147.0 L661.1,149.6 L661.5,152.2 L661.9,154.6 L662.3,157.1 L662.7,159.4 L663.0,161.7 L663.4,163.9 L663.8,166.1 L664.2,168.2 L664.6,170.3 L665.0,172.4 L665.4,174.4 L665.8,176.3 L666.1,178.3 L666.5,180.2 L666.9,182.1 L667.3,184.0 L667.7,185.8 L668.1,187.7 L668.5,189.5 L668.8,191.4 L669.2,193.2 L669.6,195.0 L670.0,196.9 L670.4,198.7 L670.8,200.6 L671.2,202.4 L671.5,204.3 L671.9,206.1 L672.3,208.0 L672.7,209.8 L673.1,211.7 L673.5,213.5 L673.9,215.3 L674.2,217.1 L674.6,218.8 L675.0,220.5 L675.4,222.2 L675.8,223.8 L676.2,225.4 L676.6,226.9 L676.9,228.3 L677.3,229.6 L677.7,230.9 L678.1,232.0 L678.5,233.0 L678.9,233.8 L679.3,234.5 L679.6,235.0 L680.0,235.4 L680.4,235.5 L680.8,235.5 L681.2,235.3 L681.6,234.8 L682.0,234.1 L682.3,233.1 L682.7,231.9 L683.1,230.4 L683.5,228.6 L683.9,226.6 L684.3,224.3 L684.7,221.7 L685.1,218.8 L685.4,215.6 L685.8,212.1 L686.2,208.4 L686.6,204.4 L687.0,200.1 L687.4,195.6 L687.8,190.8 L688.1,185.8 L688.5,180.6 L688.9,175.2 L689.3,169.6 L689.7,163.9 L690.1,158.1 L690.5,152.1 L690.8,146.1 L691.2,140.1 L691.6,134.0 L692.0,128.0 L692.4,122.0 L692.8,116.0 L693.2,110.2 L693.5,104.5 L693.9,98.9 L694.3,93.5 L694.7,88.3 L695.1,83.3 L695.5,78.6 L695.9,74.2 L696.2,70.0 L696.6,66.1 L697.0,62.6 L697.4,59.3 L697.8,56.4 L698.2,53.9 L698.6,51.7 L698.9,49.8 L699.3,48.3 L699.7,47.1 L700.1,46.3 L700.5,45.8 L700.9,45.7 L701.3,45.9 L701.6,46.4 L702.0,47.2 L702.4,48.3 L702.8,49.7 L703.2,51.3 L703.6,53.2 L704.0,55.4 L704.4,57.8 L704.7,60.4 L705.1,63.2 L705.5,66.2 L705.9,69.3 L706.3,72.6 L706.7,76.0 L707.1,79.6 L707.4,83.2 L707.8,87.0 L708.2,90.8 L708.6,94.7 L709.0,98.6 L709.4,102.6 L709.8,106.6 L710.1,110.6 L710.5,114.6 L710.9,118.6 L711.3,122.6 L711.7,126.5 L712.1,130.4 L712.5,134.2 L712.8,138.0 L713.2,141.7 L713.6,145.3 L714.0,148.9 L714.4,152.3 L714.8,155.7 L715.2,158.9 L715.5,162.0 L715.9,165.1 L716.3,168.0 L716.7,170.8 L717.1,173.4 L717.5,175.9 L717.9,178.4 L718.2,180.7 L718.6,182.8 L719.0,184.9 L719.4,186.8 L719.8,188.6 L720.2,190.3 L720.6,191.9 L720.9,193.4 L721.3,194.7 L721.7,196.0 L722.1,197.2 L722.5,198.3 L722.9,199.3 L723.3,200.2 L723.7,201.1 L724.0,201.9 L724.4,202.7 L724.8,203.3 L725.2,204.0 L725.6,204.6 L726.0,205.1 L726.4,205.7 L726.7,206.2 L727.1,206.6 L727.5,207.1 L727.9,207.5 L728.3,207.9 L728.7,208.3 L729.1,208.6 L729.4,209.0 L729.8,209.3 L730.2,209.6 L730.6,209.9 L731.0,210.1 L731.4,210.4 L731.8,210.6 L732.1,210.8 L732.5,210.9 L732.9,211.0 L733.3,211.0 L733.7,211.0 L734.1,210.9 L734.5,210.7 L734.8,210.5 L735.2,210.1 L735.6,209.7 L736.0,209.1 L736.4,208.4 L736.8,207.6 L737.2,206.7 L737.5,205.6 L737.9,204.3 L738.3,202.9 L738.7,201.3 L739.1,199.5 L739.5,197.6 L739.9,195.4 L740.2,193.1 L740.6,190.5 L741.0,187.8 L741.4,184.9 L741.8,181.8 L742.2,178.5 L742.6,175.0 L743.0,171.3 L743.3,167.5 L743.7,163.5 L744.1,159.3 L744.5,155.1 L744.9,150.7 L745.3,146.2 L745.7,141.6 L746.0,136.9 L746.4,132.2 L746.8,127.5 L747.2,122.7 L747.6,118.0 L748.0,113.3 L748.4,108.7 L748.7,104.1 L749.1,99.6 L749.5,95.3 L749.9,91.1 L750.3,87.1 L750.7,83.2 L751.1,79.6 L751.4,76.1 L751.8,72.9 L752.2,70.0 L752.6,67.3 L753.0,64.8 L753.4,62.7 L753.8,60.8 L754.1,59.3 L754.5,58.0 L754.9,57.0 L755.3,56.4 L755.7,56.0 L756.1,56.0 L756.5,56.2 L756.8,56.8 L757.2,57.6 L757.6,58.7 L758.0,60.1 L758.4,61.8 L758.8,63.7 L759.2,65.9 L759.5,68.3 L759.9,71.0 L760.3,73.8 L760.7,76.9 L761.1,80.1 L761.5,83.5 L761.9,87.1 L762.3,90.8 L762.6,94.7 L763.0,98.6 L763.4,102.7 L763.8,106.9 L764.2,111.1 L764.6,115.4 L765.0,119.7 L765.3,124.1 L765.7,128.5 L766.1,132.9 L766.5,137.2 L766.9,141.6 L767.3,145.9 L767.7,150.2 L768.0,154.4 L768.4,158.5 L768.8,162.5 L769.2,166.5 L769.6,170.3 L770.0,174.1 L770.4,177.6 L770.7,181.1 L771.1,184.4 L771.5,187.6 L771.9,190.6 L772.3,193.4 L772.7,196.1 L773.1,198.6 L773.4,200.9 L773.8,203.1 L774.2,205.0 L774.6,206.8 L775.0,208.4 L775.4,209.7 L775.8,211.0 L776.1,212.0 L776.5,212.8 L776.9,213.5 L777.3,214.0 L777.7,214.3 L778.1,214.4 L778.5,214.4 L778.8,214.3 L779.2,214.0 L779.6,213.5 L780.0,213.0 L780.4,212.3 L780.8,211.5 L781.2,210.6 L781.6,209.6 L781.9,208.5 L782.3,207.3 L782.7,206.1 L783.1,204.8 L783.5,203.5 L783.9,202.1 L784.3,200.7 L784.6,199.3 L785.0,197.8 L785.4,196.4 L785.8,194.9 L786.2,193.5 L786.6,192.0 L787.0,190.6 L787.3,189.1 L787.7,187.7 L788.1,186.3 L788.5,184.9 L788.9,183.5 L789.3,182.1 L789.7,180.8 L790.0,179.5 L790.4,178.1 L790.8,176.8 L791.2,175.5 L791.6,174.1 L792.0,172.8 L792.4,171.4 L792.7,170.0 L793.1,168.5 L793.5,167.1 L793.9,165.5 L794.3,164.0 L794.7,162.3 L795.1,160.7 L795.4,158.9 L795.8,157.1" stroke="#000" stroke-width="1.75"/>
<path d="M471.2,129.9 L471.6,130.2 L472.0,130.6 L472.4,131.0 L472.8,131.5 L473.1,132.1 L473.5,132.7 L473.9,133.3 L474.3,134.0 L474.7,134.7 L475.1,135.5 L475.5,136.2 L475.8,137.0 L476.2,137.7 L476.6,138.5 L477.0,139.2 L477.4,140.0 L477.8,140.7 L478.2,141.4 L478.5,142.0 L478.9,142.6 L479.3,143.2 L479.7,143.8 L480.1,144.3 L480.5,144.8 L480.9,145.3 L481.2,145.7 L481.6,146.1 L482.0,146.4 L482.4,146.7 L482.8,147.0 L483.2,147.3 L483.6,147.5 L483.9,147.7 L484.3,147.9 L484.7,148.1 L485.1,148.2 L485.5,148.4 L485.9,148.5 L486.3,148.6 L486.6,148.8 L487.0,148.9 L487.4,149.0 L487.8,149.2 L488.2,149.3 L488.6,149.5 L489.0,149.7 L489.3,149.9 L489.7,150.1 L490.1,150.3 L490.5,150.6 L490.9,150.9 L491.3,151.2 L491.7,151.5 L492.1,151.9 L492.4,152.3 L492.8,152.7 L493.2,153.1 L493.6,153.6 L494.0,154.1 L494.4,154.6 L494.8,155.2 L495.1,155.8 L495.5,156.4 L495.9,157.0 L496.3,157.6 L496.7,158.3 L497.1,159.0 L497.5,159.6 L497.8,160.3 L498.2,161.0 L498.6,161.7 L499.0,162.4 L499.4,163.1 L499.8,163.8 L500.2,164.4 L500.5,165.1 L500.9,165.7 L501.3,166.3 L501.7,166.9 L502.1,167.4 L502.5,167.9 L502.9,168.4 L503.2,168.8 L503.6,169.2 L504.0,169.6 L504.4,169.9 L504.8,170.1 L505.2,170.3 L505.6,170.4 L505.9,170.5 L506.3,170.5 L506.7,170.5 L507.1,170.4 L507.5,170.2 L507.9,170.0 L508.3,169.7 L508.6,169.3 L509.0,168.9 L509.4,168.4 L509.8,167.8 L510.2,167.2 L510.6,166.5 L511.0,165.7 L511.4,164.8 L511.7,163.9 L512.1,162.9 L512.5,161.8 L512.9,160.7 L513.3,159.5 L513.7,158.2 L514.1,156.9 L514.4,155.5 L514.8,154.0 L515.2,152.6 L515.6,151.0 L516.0,149.5 L516.4,147.9 L516.8,146.2 L517.1,144.6 L517.5,143.0 L517.9,141.3 L518.3,139.7 L518.7,138.1 L519.1,136.5 L519.5,135.0 L519.8,133.5 L520.2,132.1 L520.6,130.7 L521.0,129.4 L521.4,128.2 L521.8,127.1 L522.2,126.1 L522.5,125.2 L522.9,124.4 L523.3,123.7 L523.7,123.2 L524.1,122.7 L524.5,122.5 L524.9,122.3 L525.2,122.2 L525.6,122.3 L526.0,122.5 L526.4,122.9 L526.8,123.3 L527.2,123.9 L527.6,124.5 L527.9,125.3 L528.3,126.2 L528.7,127.1 L529.1,128.1 L529.5,129.2 L529.9,130.3 L530.3,131.5 L530.7,132.7 L531.0,133.9 L531.4,135.1 L531.8,136.4 L532.2,137.6 L532.6,138.9 L533.0,140.1 L533.4,141.3 L533.7,142.5 L534.1,143.6 L534.5,144.7 L534.9,145.8 L535.3,146.8 L535.7,147.7 L536.1,148.6 L536.4,149.5 L536.8,150.3 L537.2,151.0 L537.6,151.7 L538.0,152.3 L538.4,152.9 L538.8,153.4 L539.1,153.9 L539.5,154.3 L539.9,154.7 L540.3,155.0 L540.7,155.3 L541.1,155.6 L541.5,155.8 L541.8,156.0 L542.2,156.2 L542.6,156.4 L543.0,156.5 L543.4,156.6 L543.8,156.7 L544.2,156.8 L544.5,156.9 L544.9,157.0 L545.3,157.0 L545.7,157.1 L546.1,157.2 L546.5,157.3 L546.9,157.3 L547.2,157.4 L547.6,157.6 L548.0,157.7 L548.4,157.8 L548.8,158.0 L549.2,158.2 L549.6,158.4 L550.0,158.6 L550.3,158.8 L550.7,159.1 L551.1,159.3 L551.5,159.6 L551.9,160.0 L552.3,160.3 L552.7,160.7 L553.0,161.0 L553.4,161.4 L553.8,161.8 L554.2,162.2 L554.6,162.7 L555.0,163.1 L555.4,163.5 L555.7,164.0 L556.1,164.4 L556.5,164.8 L556.9,165.2 L557.3,165.6 L557.7,166.0 L558.1,166.4 L558.4,166.7 L558.8,167.0 L559.2,167.3 L559.6,167.6 L560.0,167.8 L560.4,168.0 L560.8,168.1 L561.1,168.2 L561.5,168.3 L561.9,168.3 L562.3,168.2 L562.7,168.1 L563.1,168.0 L563.5,167.7 L563.8,167.5 L564.2,167.1 L564.6,166.7 L565.0,166.2 L565.4,165.7 L565.8,165.0 L566.2,164.3 L566.5,163.6 L566.9,162.7 L567.3,161.8 L567.7,160.8 L568.1,159.7 L568.5,158.5 L568.9,157.3 L569.3,156.0 L569.6,154.6 L570.0,153.2 L570.4,151.7 L570.8,150.1 L571.2,148.5 L571.6,146.8 L572.0,145.1 L572.3,143.4 L572.7,141.7 L573.1,139.9 L573.5,138.1 L573.9,136.4 L574.3,134.6 L574.7,132.9 L575.0,131.2 L575.4,129.6 L575.8,128.0 L576.2,126.5 L576.6,125.1 L577.0,123.8 L577.4,122.6 L577.7,121.5 L578.1,120.5 L578.5,119.7 L578.9,119.0 L579.3,118.4 L579.7,118.0 L580.1,117.8 L580.4,117.7 L580.8,117.7 L581.2,117.9 L581.6,118.3 L582.0,118.8 L582.4,119.4 L582.8,120.2 L583.1,121.0 L583.5,122.1 L583.9,123.2 L584.3,124.4 L584.7,125.7 L585.1,127.1 L585.5,128.6 L585.8,130.1 L586.2,131.6 L586.6,133.2 L587.0,134.8 L587.4,136.4 L587.8,138.1 L588.2,139.7 L588.6,141.3 L588.9,142.8 L589.3,144.3 L589.7,145.8 L590.1,147.3 L590.5,148.6 L590.9,149.9 L591.3,151.2 L591.6,152.4 L592.0,153.5 L592.4,154.5 L592.8,155.5 L593.2,156.4 L593.6,157.2 L594.0,158.0 L594.3,158.7 L594.7,159.3 L595.1,159.9 L595.5,160.4 L595.9,160.8 L596.3,161.2 L596.7,161.5 L597.0,161.8 L597.4,162.0 L597.8,162.2 L598.2,162.4 L598.6,162.5 L599.0,162.5 L599.4,162.6 L599.7,162.6 L600.1,162.6 L600.5,162.5 L600.9,162.5 L601.3,162.4 L601.7,162.3 L602.1,162.2 L602.4,162.1 L602.8,162.0 L603.2,161.9 L603.6,161.8 L604.0,161.7 L604.4,161.6 L604.8,161.5 L605.1,161.4 L605.5,161.3 L605.9,161.3 L606.3,161.2 L606.7,161.2 L607.1,161.2 L607.5,161.2 L607.9,161.3 L608.2,161.3 L608.6,161.4 L609.0,161.5 L609.4,161.6 L609.8,161.7 L610.2,161.9 L610.6,162.0 L610.9,162.2 L611.3,162.4 L611.7,162.6 L612.1,162.8 L612.5,163.0 L612.9,163.2 L613.3,163.4 L613.6,163.6 L614.0,163.8 L614.4,164.0 L614.8,164.1 L615.2,164.3 L615.6,164.4 L616.0,164.5 L616.3,164.6 L616.7,164.6 L617.1,164.6 L617.5,164.6 L617.9,164.6 L618.3,164.5 L618.7,164.3 L619.0,164.1 L619.4,163.8 L619.8,163.5 L620.2,163.2 L620.6,162.7 L621.0,162.2 L621.4,161.7 L621.7,161.1 L622.1,160.4 L622.5,159.6 L622.9,158.7 L623.3,157.8 L623.7,156.8 L624.1,155.8 L624.4,154.6 L624.8,153.4 L625.2,152.1 L625.6,150.8 L626.0,149.3 L626.4,147.9 L626.8,146.3 L627.2,144.7 L627.5,143.1 L627.9,141.5 L628.3,139.8 L628.7,138.1 L629.1,136.3 L629.5,134.6 L629.9,132.9 L630.2,131.3 L630.6,129.6 L631.0,128.0 L631.4,126.5 L631.8,125.1 L632.2,123.7 L632.6,122.4 L632.9,121.3 L633.3,120.2 L633.7,119.3 L634.1,118.5 L634.5,117.8 L634.9,117.3 L635.3,116.9 L635.6,116.7 L636.0,116.7 L636.4,116.8 L636.8,117.1 L637.2,117.5 L637.6,118.1 L638.0,118.8 L638.3,119.7 L638.7,120.7 L639.1,121.8 L639.5,123.0 L639.9,124.4 L640.3,125.8 L640.7,127.4 L641.0,129.0 L641.4,130.6 L641.8,132.3 L642.2,134.1 L642.6,135.9 L643.0,137.7 L643.4,139.5 L643.7,141.2 L644.1,143.0 L644.5,144.8 L644.9,146.5 L645.3,148.1 L645.7,149.7 L646.1,151.3 L646.5,152.7 L646.8,154.2 L647.2,155.5 L647.6,156.8 L648.0,158.0 L648.4,159.1 L648.8,160.1 L649.2,161.1 L649.5,161.9 L649.9,162.7 L650.3,163.4 L650.7,164.1 L651.1,164.7 L651.5,165.2 L651.9,165.6 L652.2,166.0 L652.6,166.3 L653.0,166.5 L653.4,166.7 L653.8,166.9 L654.2,166.9 L654.6,167.0 L654.9,167.0 L655.3,166.9 L655.7,166.8 L656.1,166.7 L656.5,166.5 L656.9,166.3 L657.3,166.1 L657.6,165.8 L658.0,165.6 L658.4,165.3 L658.8,165.0 L659.2,164.6 L659.6,164.3 L660.0,164.0 L660.3,163.6 L660.7,163.3 L661.1,163.0 L661.5,162.6 L661.9,162.3 L662.3,162.0 L662.7,161.7 L663.0,161.4 L663.4,161.1 L663.8,160.8 L664.2,160.6 L664.6,160.4 L665.0,160.2 L665.4,160.0 L665.8,159.8 L666.1,159.7 L666.5,159.6 L666.9,159.5 L667.3,159.4 L667.7,159.3 L668.1,159.3 L668.5,159.3 L668.8,159.3 L669.2,159.2 L669.6,159.3 L670.0,159.3 L670.4,159.3 L670.8,159.3 L671.2,159.3 L671.5,159.3 L671.9,159.3 L672.3,159.3 L672.7,159.3 L673.1,159.2 L673.5,159.1 L673.9,159.0 L674.2,158.9 L674.6,158.7 L675.0,158.5 L675.4,158.3 L675.8,158.0 L676.2,157.7 L676.6,157.3 L676.9,156.9 L677.3,156.4 L677.7,155.9 L678.1,155.3 L678.5,154.6 L678.9,153.9 L679.3,153.1 L679.6,152.3 L680.0,151.4 L680.4,150.4 L680.8,149.3 L681.2,148.2 L681.6,147.1 L682.0,145.9 L682.3,144.6 L682.7,143.3 L683.1,142.0 L683.5,140.6 L683.9,139.2 L684.3,137.7 L684.7,136.3 L685.1,134.9 L685.4,133.4 L685.8,132.0 L686.2,130.6 L686.6,129.3 L687.0,128.0 L687.4,126.8 L687.8,125.6 L688.1,124.5 L688.5,123.5 L688.9,122.6 L689.3,121.8 L689.7,121.2 L690.1,120.6 L690.5,120.2 L690.8,119.9 L691.2,119.8 L691.6,119.7 L692.0,119.9 L692.4,120.2 L692.8,120.6 L693.2,121.1 L693.5,121.8 L693.9,122.6 L694.3,123.6 L694.7,124.6 L695.1,125.8 L695.5,127.1 L695.9,128.5 L696.2,129.9 L696.6,131.5 L697.0,133.1 L697.4,134.7 L697.8,136.4 L698.2,138.1 L698.6,139.9 L698.9,141.6 L699.3,143.3 L699.7,145.1 L700.1,146.8 L700.5,148.5 L700.9,150.2 L701.3,151.8 L701.6,153.3 L702.0,154.8 L702.4,156.3 L702.8,157.7 L703.2,159.0 L703.6,160.3 L704.0,161.4 L704.4,162.5 L704.7,163.6 L705.1,164.5 L705.5,165.4 L705.9,166.2 L706.3,166.9 L706.7,167.5 L707.1,168.1 L707.4,168.6 L707.8,169.0 L708.2,169.3 L708.6,169.6 L709.0,169.8 L709.4,170.0 L709.8,170.1 L710.1,170.1 L710.5,170.1 L710.9,170.0 L711.3,169.8 L711.7,169.6 L712.1,169.4 L712.5,169.1 L712.8,168.8 L713.2,168.4 L713.6,168.0 L714.0,167.5 L714.4,167.0 L714.8,166.5 L715.2,166.0 L715.5,165.4 L715.9,164.9 L716.3,164.3 L716.7,163.7 L717.1,163.0 L717.5,162.4 L717.9,161.8 L718.2,161.2 L718.6,160.6 L719.0,160.0 L719.4,159.4 L719.8,158.8 L720.2,158.2 L720.6,157.7 L720.9,157.2 L721.3,156.7 L721.7,156.2 L722.1,155.8 L722.5,155.3 L722.9,154.9 L723.3,154.6 L723.7,154.2 L724.0,153.9 L724.4,153.6 L724.8,153.4 L725.2,153.1 L725.6,152.9 L726.0,152.7 L726.4,152.6 L726.7,152.4 L727.1,152.3 L727.5,152.2 L727.9,152.1 L728.3,152.0 L728.7,151.9 L729.1,151.8 L729.4,151.7 L729.8,151.6 L730.2,151.5 L730.6,151.4 L731.0,151.3 L731.4,151.2 L731.8,151.0 L732.1,150.8 L732.5,150.6 L732.9,150.4 L733.3,150.1 L733.7,149.8 L734.1,149.4 L734.5,149.0 L734.8,148.6 L735.2,148.1 L735.6,147.5 L736.0,147.0 L736.4,146.3 L736.8,145.7 L737.2,144.9 L737.5,144.2 L737.9,143.4 L738.3,142.5 L738.7,141.6 L739.1,140.7 L739.5,139.8 L739.9,138.8 L740.2,137.9 L740.6,136.9 L741.0,135.9 L741.4,134.9 L741.8,134.0 L742.2,133.1 L742.6,132.1 L743.0,131.3 L743.3,130.5 L743.7,129.7 L744.1,129.0 L744.5,128.3 L744.9,127.8 L745.3,127.3 L745.7,126.9 L746.0,126.6 L746.4,126.4 L746.8,126.3 L747.2,126.3 L747.6,126.5 L748.0,126.7 L748.4,127.0 L748.7,127.5 L749.1,128.0 L749.5,128.7 L749.9,129.5 L750.3,130.3 L750.7,131.3 L751.1,132.3 L751.4,133.4 L751.8,134.6 L752.2,135.9 L752.6,137.2 L753.0,138.6 L753.4,140.0 L753.8,141.5 L754.1,143.0 L754.5,144.5 L754.9,146.0 L755.3,147.5 L755.7,149.1 L756.1,150.6 L756.5,152.1 L756.8,153.5 L757.2,155.0 L757.6,156.4 L758.0,157.7 L758.4,159.1 L758.8,160.3 L759.2,161.5 L759.5,162.7 L759.9,163.8 L760.3,164.8 L760.7,165.8 L761.1,166.7 L761.5,167.5 L761.9,168.3 L762.3,169.0 L762.6,169.6 L763.0,170.1 L763.4,170.6 L763.8,171.0 L764.2,171.4 L764.6,171.6 L765.0,171.8 L765.3,171.9 L765.7,172.0 L766.1,172.0 L766.5,171.9 L766.9,171.7 L767.3,171.5 L767.7,171.2 L768.0,170.9 L768.4,170.5 L768.8,170.0 L769.2,169.5 L769.6,169.0 L770.0,168.4 L770.4,167.7 L770.7,167.0 L771.1,166.3 L771.5,165.5 L771.9,164.7 L772.3,163.8 L772.7,163.0 L773.1,162.1 L773.4,161.2 L773.8,160.3 L774.2,159.3 L774.6,158.4 L775.0,157.5 L775.4,156.5 L775.8,155.6 L776.1,154.7 L776.5,153.8 L776.9,152.9 L777.3,152.1 L777.7,151.2 L778.1,150.4 L778.5,149.6 L778.8,148.9 L779.2,148.2 L779.6,147.5 L780.0,146.9 L780.4,146.3 L780.8,145.8 L781.2,145.3 L781.6,144.8 L781.9,144.4 L782.3,144.1 L782.7,143.8 L783.1,143.5 L783.5,143.3 L783.9,143.1 L784.3,143.0 L784.6,142.9 L785.0,142.8 L785.4,142.7 L785.8,142.7 L786.2,142.7 L786.6,142.8 L787.0,142.8 L787.3,142.9 L787.7,143.0 L788.1,143.0 L788.5,143.1 L788.9,143.2 L789.3,143.3 L789.7,143.3 L790.0,143.4 L790.4,143.4 L790.8,143.4 L791.2,143.4 L791.6,143.3 L792.0,143.2 L792.4,143.1 L792.7,143.0 L793.1,142.8 L793.5,142.6 L793.9,142.3 L794.3,142.1 L794.7,141.7 L795.1,141.4 L795.4,141.1 L795.8,140.7" stroke="#0000e6" stroke-width="1.75"/>
</g>
<rect x="471.40" y="14.75" width="324.30" height="270.55" fill="none" stroke="#161616" stroke-width="1.15"/>
<path d="M481.05,285.30 v-2.5 M481.05,14.75 v2.5 M490.70,285.30 v-5.0 M490.70,14.75 v5.0 M500.35,285.30 v-2.5 M500.35,14.75 v2.5 M510.00,285.30 v-5.0 M510.00,14.75 v5.0 M519.65,285.30 v-2.5 M519.65,14.75 v2.5 M529.30,285.30 v-5.0 M529.30,14.75 v5.0 M538.95,285.30 v-2.5 M538.95,14.75 v2.5 M548.60,285.30 v-5.0 M548.60,14.75 v5.0 M558.25,285.30 v-2.5 M558.25,14.75 v2.5 M567.90,285.30 v-5.0 M567.90,14.75 v5.0 M577.55,285.30 v-2.5 M577.55,14.75 v2.5 M587.20,285.30 v-5.0 M587.20,14.75 v5.0 M596.85,285.30 v-2.5 M596.85,14.75 v2.5 M606.50,285.30 v-5.0 M606.50,14.75 v5.0 M616.15,285.30 v-2.5 M616.15,14.75 v2.5 M625.80,285.30 v-5.0 M625.80,14.75 v5.0 M635.45,285.30 v-2.5 M635.45,14.75 v2.5 M645.10,285.30 v-5.0 M645.10,14.75 v5.0 M654.75,285.30 v-2.5 M654.75,14.75 v2.5 M664.40,285.30 v-5.0 M664.40,14.75 v5.0 M674.05,285.30 v-2.5 M674.05,14.75 v2.5 M683.70,285.30 v-5.0 M683.70,14.75 v5.0 M693.35,285.30 v-2.5 M693.35,14.75 v2.5 M703.00,285.30 v-5.0 M703.00,14.75 v5.0 M712.65,285.30 v-2.5 M712.65,14.75 v2.5 M722.30,285.30 v-5.0 M722.30,14.75 v5.0 M731.95,285.30 v-2.5 M731.95,14.75 v2.5 M741.60,285.30 v-5.0 M741.60,14.75 v5.0 M751.25,285.30 v-2.5 M751.25,14.75 v2.5 M760.90,285.30 v-5.0 M760.90,14.75 v5.0 M770.55,285.30 v-2.5 M770.55,14.75 v2.5 M780.20,285.30 v-5.0 M780.20,14.75 v5.0 M789.85,285.30 v-2.5 M789.85,14.75 v2.5 M471.40,31.44 h3.0 M795.70,31.44 h-3.0 M471.40,48.37 h5.0 M795.70,48.37 h-5.0 M471.40,65.30 h3.0 M795.70,65.30 h-3.0 M471.40,82.23 h5.0 M795.70,82.23 h-5.0 M471.40,99.16 h3.0 M795.70,99.16 h-3.0 M471.40,116.09 h5.0 M795.70,116.09 h-5.0 M471.40,133.02 h3.0 M795.70,133.02 h-3.0 M471.40,166.88 h3.0 M795.70,166.88 h-3.0 M471.40,183.81 h5.0 M795.70,183.81 h-5.0 M471.40,200.74 h3.0 M795.70,200.74 h-3.0 M471.40,217.67 h5.0 M795.70,217.67 h-5.0 M471.40,234.60 h3.0 M795.70,234.60 h-3.0 M471.40,251.53 h5.0 M795.70,251.53 h-5.0 M471.40,268.46 h3.0 M795.70,268.46 h-3.0" stroke="#161616" stroke-width="1.1" fill="none"/>
<line x1="471.40" y1="150.10" x2="795.70" y2="150.10" stroke="#404040" stroke-width="1.3"/>
<g fill="#fff" stroke="#3a3a3a" stroke-width="0.95" clip-path="url(#cp2)">
<circle cx="472.62" cy="149.90" r="2.3"/>
<path d="M503.09,147.20 l3.2,4.1 h-6.4 z"/>
<circle cx="526.37" cy="149.90" r="2.3"/>
<path d="M556.32,147.20 l3.2,4.1 h-6.4 z"/>
<circle cx="580.93" cy="149.90" r="2.3"/>
<path d="M608.89,147.20 l3.2,4.1 h-6.4 z"/>
<circle cx="635.78" cy="149.90" r="2.3"/>
<path d="M661.18,147.20 l3.2,4.1 h-6.4 z"/>
<circle cx="690.59" cy="149.90" r="2.3"/>
<path d="M714.14,147.20 l3.2,4.1 h-6.4 z"/>
<circle cx="744.94" cy="149.90" r="2.3"/>
<path d="M767.64,147.20 l3.2,4.1 h-6.4 z"/>
<circle cx="797.16" cy="149.90" r="2.3"/>
</g>
<g font-size="11.9" text-anchor="end">
<text transform="translate(465.10,17.76) scale(1.03,1)">8000</text>
<text transform="translate(465.10,51.62) scale(1.03,1)">6000</text>
<text transform="translate(465.10,85.48) scale(1.03,1)">4000</text>
<text transform="translate(465.10,119.34) scale(1.03,1)">2000</text>
<text transform="translate(465.10,153.20) scale(1.03,1)">0</text>
<text transform="translate(465.10,187.06) scale(1.03,1)">-2000</text>
<text transform="translate(465.10,220.92) scale(1.03,1)">-4000</text>
<text transform="translate(465.10,254.78) scale(1.03,1)">-6000</text>
<text transform="translate(465.10,288.64) scale(1.03,1)">-8000</text>
</g>
<g font-size="12.2" text-anchor="end">
<text transform="translate(471.40,297.00) rotate(-73.5)" y="4.2">6/15</text>
<text transform="translate(490.70,297.00) rotate(-73.5)" y="4.2">6/25</text>
<text transform="translate(510.00,297.00) rotate(-73.5)" y="4.2">7/5</text>
<text transform="translate(529.30,297.00) rotate(-73.5)" y="4.2">7/15</text>
<text transform="translate(548.60,297.00) rotate(-73.5)" y="4.2">7/25</text>
<text transform="translate(567.90,297.00) rotate(-73.5)" y="4.2">8/4</text>
<text transform="translate(587.20,297.00) rotate(-73.5)" y="4.2">8/14</text>
<text transform="translate(606.50,297.00) rotate(-73.5)" y="4.2">8/24</text>
<text transform="translate(625.80,297.00) rotate(-73.5)" y="4.2">9/3</text>
<text transform="translate(645.10,297.00) rotate(-73.5)" y="4.2">9/13</text>
<text transform="translate(664.40,297.00) rotate(-73.5)" y="4.2">9/23</text>
<text transform="translate(683.70,297.00) rotate(-73.5)" y="4.2">10/3</text>
<text transform="translate(703.00,297.00) rotate(-73.5)" y="4.2">10/13</text>
<text transform="translate(722.30,297.00) rotate(-73.5)" y="4.2">10/23</text>
<text transform="translate(741.60,297.00) rotate(-73.5)" y="4.2">11/2</text>
<text transform="translate(760.90,297.00) rotate(-73.5)" y="4.2">11/12</text>
<text transform="translate(780.20,297.00) rotate(-73.5)" y="4.2">11/22</text>
</g>
<text font-size="15.2" text-anchor="middle" transform="translate(426.60,160.30) rotate(-90) scale(1,1.09)">Derivatives in km-day units</text>
<text font-size="15" text-anchor="middle" x="633.10" y="342.50">2010</text>
<line x1="710.90" y1="247.1" x2="743.20" y2="247.1" stroke="#000" stroke-width="1.8"/>
<line x1="710.90" y1="265.7" x2="743.20" y2="265.7" stroke="#0000e6" stroke-width="1.6"/>
<text font-size="13" transform="translate(745.70,251.6) scale(0.925,1)">dr/dt</text>
<text font-size="12.7" transform="translate(745.70,269.7) scale(0.925,1)">d<tspan font-size="8" dy="-6.6">2</tspan><tspan dy="6.6">r/dt</tspan><tspan font-size="8" dy="-6.6">2</tspan></text>
</svg></body></html>
